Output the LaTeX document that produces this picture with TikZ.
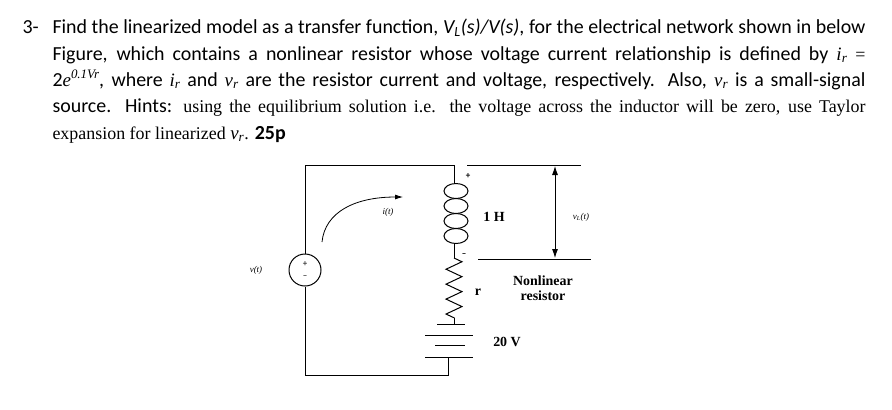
\documentclass[tikz,border=0pt]{standalone}
\usepackage{fontspec}
\setmainfont{Carlito}
\newfontfamily\tms{Liberation Serif}
\usetikzlibrary{arrows.meta,decorations.pathmorphing}
\newcommand\tx[1]{{\tms\fontsize{18}{20}\selectfont #1}}
\newcommand\tmi[1]{{\tms\itshape\fontsize{19}{20}\selectfont #1}}
\begin{document}
\begin{tikzpicture}[x=1bp,y=-1bp,line width=1bp,
  ln/.style={anchor=base west,inner sep=0,font=\fontsize{20}{24}\selectfont},
  lbl/.style={font=\tms\bfseries\fontsize{14}{15}\selectfont,inner sep=0},
  sml/.style={font=\tms\itshape\fontsize{9}{9}\selectfont,inner sep=0}]
\useasboundingbox (0,0) rectangle (892,409);
\node[ln] (n3) at (22,33) {3-};
\node[ln] (l1) at (52,33) {\makebox[813bp][s]{Find the linearized model as a transfer function, \textit{V\textsubscript{L}(s)/V(s)}, for the electrical network shown in below}};
\node[ln] (l2) at (52,60) {\makebox[813bp][s]{Figure, which contains a nonlinear resistor whose voltage current relationship is defined by \tmi{i\textsubscript{r}} \tx{=}}};
\node[ln] (l3) at (52,86) {\makebox[813bp][s]{2\tmi{e}\raisebox{8bp}{\tms\itshape\fontsize{13}{13}\selectfont 0.1Vr}, where \tmi{i\textsubscript{r}} and \tmi{v\textsubscript{r}} are the resistor current and voltage, respectively. Also, \tmi{v\textsubscript{r}} is a small-signal}};
\node[ln] (l4) at (52,112) {\makebox[813bp][s]{source. Hints: \tx{using the equilibrium solution i.e. the voltage across the inductor will be zero, use Taylor}}};
\node[ln] (l5) at (52,139) {\tx{expansion for linearized} \tmi{v\textsubscript{r}}\tx{.} \textbf{25p}};
% circuit
\coordinate (tl) at (305,165);
\coordinate (tr) at (454,165);
\coordinate (bl) at (305,375);
\coordinate (br) at (448,375);
\node[draw,circle,minimum size=32bp,inner sep=0] (src) at (305,270) {};
\node[font=\fontsize{9}{9}\selectfont,inner sep=0] (sp) at (305,264) {+};
\node[font=\fontsize{9}{9}\selectfont,inner sep=0] (sm) at (305,277) {--};
\draw (src.north) -- (tl) -- (tr) -- (454,183);
% inductor
\foreach \k in {0,1,2,3}{
  \draw (456,{191+15*\k}) ellipse (12 and 7.5);
}
\draw (454,244) -- (454,258);
\draw[decorate,decoration={zigzag,segment length=15,amplitude=8}] (454,258) -- (454,318);
\draw (454,318) -- (454,324);
\draw (437,324) -- (465,324);
\draw (425,335) -- (473,335);
\draw (435,345) -- (465,345);
\draw (425,357) -- (473,357);
\draw (448,357) -- (br) -- (bl) -- (src.south);
% vL arrow
\draw[line width=0.8bp] (467,165) -- (581,165);
\draw[line width=0.8bp] (478,259) -- (591,259);
\draw[{Latex[length=9bp,width=6bp]}-{Latex[length=9bp,width=6bp]},line width=0.8bp] (555,166) -- (555,258);
\node[font=\fontsize{9}{9}\selectfont\bfseries,inner sep=0] (pl) at (468,176) {+};
\node[font=\fontsize{9}{9}\selectfont\bfseries,inner sep=0] (mi) at (464,255) {--};
\node[sml] (vl) at (581,217) {v\textsubscript{L}(t)};
\node[lbl] (lh) at (494,217) {1 H};
\node[lbl] (lr) at (478,292) {r};
\node[lbl,align=center] (nl) at (543,288) {Nonlinear\\resistor};
\node[lbl] (l20) at (507,342) {20 V};
\node[sml] (it) at (388,212) {i(t)};
\node[sml] (vt) at (256,270) {v(t)};
\coordinate (c1) at (322,242);
\coordinate (c2) at (403,197);
\draw[-{Latex[length=8bp,width=5bp]},line width=0.8bp] (c1) .. controls (325,212) and (355,197) .. (c2);
\end{tikzpicture}
\end{document}
